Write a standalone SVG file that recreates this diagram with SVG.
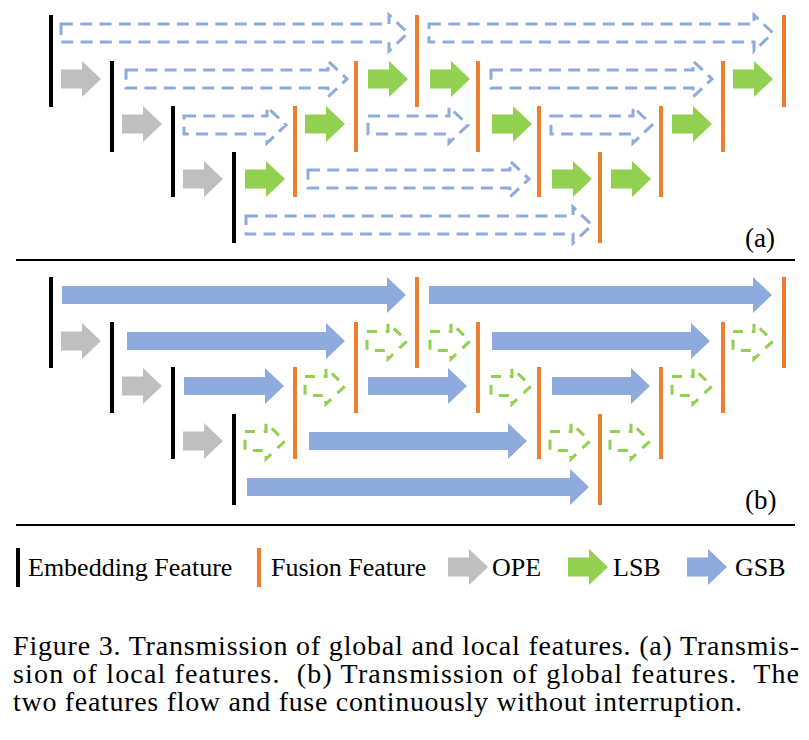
<svg xmlns="http://www.w3.org/2000/svg" xmlns:xlink="http://www.w3.org/1999/xlink" width="809" height="740" viewBox="0 0 809 740">
<style>
.emb{fill:#000}
.fus{fill:#ED7D31}
.ope{fill:#BFBFBF}
.lsb{fill:#92D050}
.gsb{fill:#8FAADC}
.dgsb{fill:none;stroke:#8FAADC;stroke-width:3;stroke-dasharray:12 7.3}
.dlsb{fill:none;stroke:#92D050;stroke-width:3;stroke-dasharray:10 8.7}
.sep{stroke:#000;stroke-width:2}
.lbl{font-family:"Liberation Serif","Times New Roman",serif;font-size:27px;fill:#000}
.leg{font-family:"Liberation Serif","Times New Roman",serif;font-size:26px;fill:#000}
.cap{font-family:"Liberation Serif","Times New Roman",serif;font-size:28px;fill:#000}
</style>
<defs>
<path id="sa" d="M0,-9.5 H21 V-18 L40,0 L21,18 V9.5 H0 Z"/>
</defs>

<!-- ===== (a) Transmission of local features ===== -->
<g id="a-nodes">
<g id="a-emb1"><rect class="emb" x="49" y="15" width="4" height="92"/></g>
<g id="a-emb2"><rect class="emb" x="110" y="61" width="4" height="91"/></g>
<g id="a-emb3"><rect class="emb" x="171" y="106" width="4" height="91"/></g>
<g id="a-emb4"><rect class="emb" x="232" y="152" width="4" height="91"/></g>
<g id="a-fus1"><rect class="fus" x="415" y="15" width="4" height="92"/></g>
<g id="a-fus2"><rect class="fus" x="782" y="15" width="4" height="92"/></g>
<g id="a-fus3"><rect class="fus" x="354" y="61" width="4" height="91"/></g>
<g id="a-fus4"><rect class="fus" x="476" y="61" width="4" height="91"/></g>
<g id="a-fus5"><rect class="fus" x="721" y="61" width="4" height="91"/></g>
<g id="a-fus6"><rect class="fus" x="293" y="106" width="4" height="91"/></g>
<g id="a-fus7"><rect class="fus" x="537" y="106" width="4" height="91"/></g>
<g id="a-fus8"><rect class="fus" x="659" y="106" width="4" height="91"/></g>
<g id="a-fus9"><rect class="fus" x="598" y="152" width="4" height="91"/></g>
</g>
<g id="a-connectors">
<path class="dgsb" d="M61,24 H389 V15 L408,33 L389,51 V42 H61 Z"/>
<path class="dgsb" d="M429,24 H754 V15 L773,33 L754,51 V42 H429 Z"/>
<path class="dgsb" d="M126,70 H328 V61 L347,79 L328,97 V88 H126 Z"/>
<path class="dgsb" d="M491,70 H693 V61 L712,79 L693,97 V88 H491 Z"/>
<path class="dgsb" d="M184,116 H267 V107 L286,125 L267,143 V134 H184 Z"/>
<path class="dgsb" d="M368,116 H449 V107 L468,125 L449,143 V134 H368 Z"/>
<path class="dgsb" d="M551,116 H633 V107 L652,125 L633,143 V134 H551 Z"/>
<path class="dgsb" d="M308,170 H510 V161 L529,179 L510,197 V188 H308 Z"/>
<path class="dgsb" d="M246,216 H573 V207 L592,225 L573,243 V234 H246 Z"/>
<use href="#sa" class="ope" x="61" y="79"/>
<use href="#sa" class="ope" x="122" y="124"/>
<use href="#sa" class="ope" x="183" y="179"/>
<use href="#sa" class="lsb" x="368" y="79"/>
<use href="#sa" class="lsb" x="430" y="79"/>
<use href="#sa" class="lsb" x="733" y="79"/>
<use href="#sa" class="lsb" x="305" y="124"/>
<use href="#sa" class="lsb" x="492" y="124"/>
<use href="#sa" class="lsb" x="672" y="124"/>
<use href="#sa" class="lsb" x="245" y="179"/>
<use href="#sa" class="lsb" x="552" y="179"/>
<use href="#sa" class="lsb" x="611" y="179"/>
</g>
<text class="lbl" x="745" y="247">(a)</text>
<line class="sep" x1="16" y1="260" x2="795" y2="260"/>

<!-- ===== (b) Transmission of global features ===== -->
<g id="b-nodes">
<g id="b-emb1"><rect class="emb" x="49" y="277" width="4" height="91"/></g>
<g id="b-emb2"><rect class="emb" x="110" y="322" width="4" height="91"/></g>
<g id="b-emb3"><rect class="emb" x="171" y="367" width="4" height="92"/></g>
<g id="b-emb4"><rect class="emb" x="232" y="414" width="4" height="91"/></g>
<g id="b-fus1"><rect class="fus" x="415" y="277" width="4" height="91"/></g>
<g id="b-fus2"><rect class="fus" x="782" y="277" width="4" height="91"/></g>
<g id="b-fus3"><rect class="fus" x="354" y="322" width="4" height="91"/></g>
<g id="b-fus4"><rect class="fus" x="476" y="322" width="4" height="91"/></g>
<g id="b-fus5"><rect class="fus" x="721" y="322" width="4" height="91"/></g>
<g id="b-fus6"><rect class="fus" x="293" y="367" width="4" height="92"/></g>
<g id="b-fus7"><rect class="fus" x="537" y="367" width="4" height="92"/></g>
<g id="b-fus8"><rect class="fus" x="659" y="367" width="4" height="92"/></g>
<g id="b-fus9"><rect class="fus" x="598" y="414" width="4" height="91"/></g>
</g>
<g id="b-connectors">
<path class="gsb" d="M62,286 H387 V277 L406,295 L387,313 V304 H62 Z"/>
<path class="gsb" d="M429,286 H753 V277 L772,295 L753,313 V304 H429 Z"/>
<path class="gsb" d="M127,332 H326 V323 L345,341 L326,359 V350 H127 Z"/>
<path class="gsb" d="M492,332 H691 V323 L710,341 L691,359 V350 H492 Z"/>
<path class="gsb" d="M184,377 H265 V368 L284,386 L265,404 V395 H184 Z"/>
<path class="gsb" d="M368,377 H448 V368 L467,386 L448,404 V395 H368 Z"/>
<path class="gsb" d="M552,377 H631 V368 L650,386 L631,404 V395 H552 Z"/>
<path class="gsb" d="M309,432 H508 V423 L527,441 L508,459 V450 H309 Z"/>
<path class="gsb" d="M247,478 H570 V469 L589,487 L570,505 V496 H247 Z"/>
<use href="#sa" class="ope" x="61" y="341"/>
<use href="#sa" class="ope" x="122" y="386"/>
<use href="#sa" class="ope" x="183" y="441"/>
<use href="#sa" class="dlsb" x="367" y="341"/>
<use href="#sa" class="dlsb" x="430" y="341"/>
<use href="#sa" class="dlsb" x="733" y="341"/>
<use href="#sa" class="dlsb" x="305" y="386"/>
<use href="#sa" class="dlsb" x="491" y="386"/>
<use href="#sa" class="dlsb" x="672" y="386"/>
<use href="#sa" class="dlsb" x="245" y="441"/>
<use href="#sa" class="dlsb" x="550" y="441"/>
<use href="#sa" class="dlsb" x="610" y="441"/>
</g>
<text class="lbl" x="745" y="509">(b)</text>
<line class="sep" x1="16" y1="525" x2="795" y2="525"/>

<!-- ===== Legend ===== -->
<g id="legend">
<g id="leg-emb"><rect class="emb" x="16" y="548" width="4" height="39"/><text class="leg" x="28" y="576">Embedding Feature</text></g>
<g id="leg-fus"><rect class="fus" x="257" y="548" width="4" height="39"/><text class="leg" x="271" y="576">Fusion Feature</text></g>
<g id="leg-ope"><use href="#sa" class="ope" x="448" y="567"/><text class="leg" x="492" y="576">OPE</text></g>
<g id="leg-lsb"><use href="#sa" class="lsb" x="568" y="567"/><text class="leg" x="613" y="576">LSB</text></g>
<g id="leg-gsb"><use href="#sa" class="gsb" x="687" y="567"/><text class="leg" x="735" y="576">GSB</text></g>
</g>

<!-- ===== Caption ===== -->
<text class="cap" x="13" y="655" textLength="786" lengthAdjust="spacing">Figure 3. Transmission of global and local features. (a) Transmis-</text>
<text class="cap" x="13" y="683" textLength="786" lengthAdjust="spacing" xml:space="preserve">sion of local features.  (b) Transmission of global features.  The</text>
<text class="cap" x="13" y="711" textLength="729" lengthAdjust="spacing">two features flow and fuse continuously without interruption.</text>
</svg>
